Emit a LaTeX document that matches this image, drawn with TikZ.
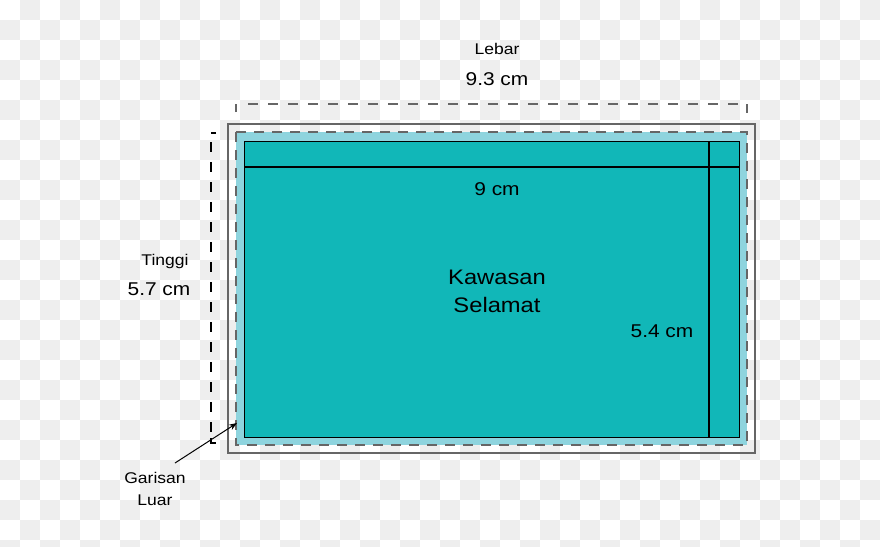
\documentclass[tikz,border=0pt]{standalone}
\usepackage{fontspec}
\setmainfont{Liberation Sans}[FakeStretch=1.13]
\usetikzlibrary{arrows.meta}
\definecolor{tosca}{HTML}{11B7B8}
\definecolor{birumuda}{HTML}{8ED4DE}
\definecolor{petak}{HTML}{EEEEEE}
\definecolor{abu}{HTML}{666666}

\begin{document}
\begin{tikzpicture}[x=1pt,y=-1pt,
    labelkecil/.style={anchor=base,font=\fontsize{15.5}{18}\selectfont},
    labelukuran/.style={anchor=base,font=\fontsize{18.5}{22}\selectfont},
    labelbesar/.style={anchor=base,font=\fontsize{21}{25}\selectfont},
    garisputus/.style={dash pattern=on 10pt off 10pt,line width=1.3pt}]
            % background
            \useasboundingbox (0,0) rectangle (880,546);
            \fill[white] (0,0) rectangle (880,546);
            \foreach \i in {0,...,43}
                \foreach \j in {0,...,27}
                    {\pgfmathparse{int(mod(\i+\j,2))}
                     \ifnum\pgfmathresult=1 \fill[petak] (20*\i,20*\j) rectangle ++(20,20);\fi}

            % kotak luar
            \draw[abu,line width=1.5pt] (228,124) rectangle (755,453);

            % garisan luar
            \fill[birumuda] (236,132) rectangle (747,445);
            \draw[abu,dash pattern=on 10pt off 8pt,line width=1.5pt] (236,132) rectangle (747,445);

            % kawasan selamat
            \draw[fill=tosca,line width=1pt] (244,141) rectangle (739,437);
            \draw[line width=1.8pt] (244,167) -- (739,167);
            \draw[line width=1.8pt] (709,141) -- (709,437);

            % lebar
            \draw[abu,line width=1.3pt] (236,112) -- (236,104);
            \draw[abu,garisputus] (248,104) -- (740,104);
            \draw[abu,line width=1.3pt] (747,104) -- (747,113);
            \node[labelkecil] (lebar) at (497,54) {Lebar};
            \node[labelukuran] (lebarcm) at (497,85) {9.3 cm};

            % tinggi
            \draw[line width=1.3pt] (216,133) -- (211,133);
            \draw[garisputus] (211,142) -- (211,436);
            \draw[line width=1.3pt] (211,438) -- (211,443) -- (216,443);
            \node[labelkecil] (tinggi) at (165,265) {Tinggi};
            \node[labelukuran] (tinggicm) at (159,295) {5.7 cm};

            % ukuran dalam
            \node[labelukuran] (lebardalam) at (497,195) {9 cm};
            \node[labelukuran] (tinggidalam) at (662,337) {5.4 cm};
            \node[labelbesar] (kawasan) at (497,284) {Kawasan};
            \node[labelbesar] (selamat) at (497,312) {Selamat};

            % garisan luar
            \node[labelkecil] (garisan) at (155,483) {Garisan};
            \node[labelkecil] (luar) at (155,505) {Luar};
            \coordinate (pangkal) at (175,463);
            \coordinate (ujung) at (237,423);
            \draw[-{Stealth[length=8pt,width=6pt]},line width=1pt] (pangkal) -- (ujung);
        \end{tikzpicture}
\end{document}
